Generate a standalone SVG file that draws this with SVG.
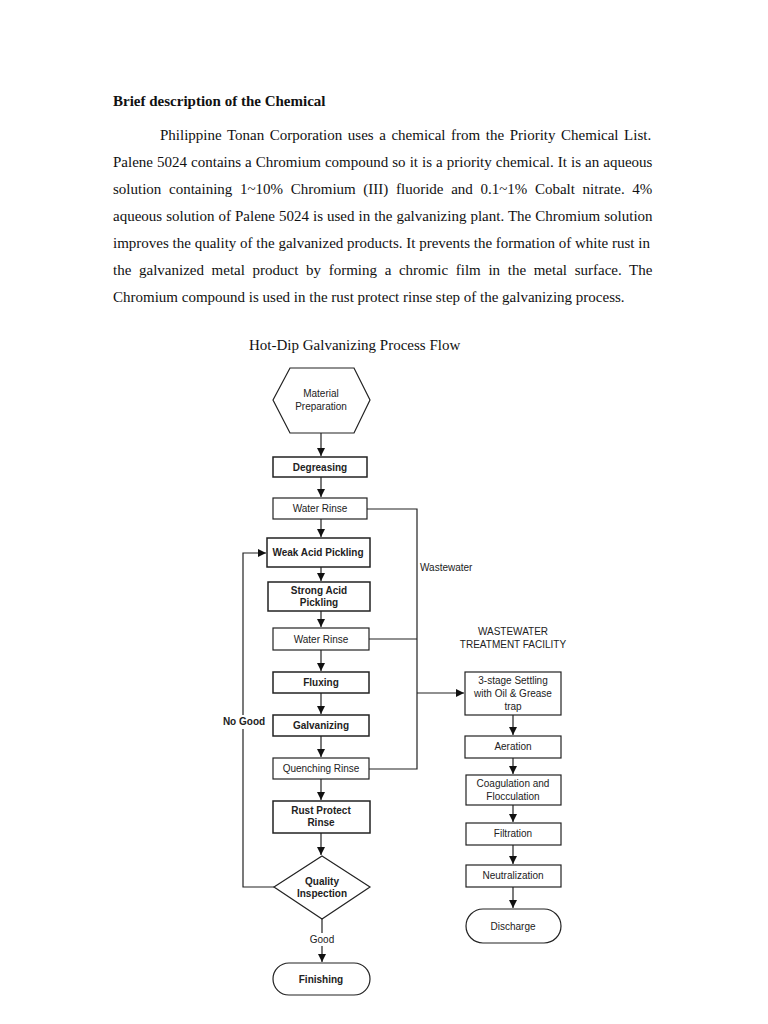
<svg xmlns="http://www.w3.org/2000/svg" width="768" height="1024" viewBox="0 0 768 1024">
<style>
.doc{font-family:"Liberation Serif","Times New Roman",serif;font-size:15px;fill:#111}
.hd{font-family:"Liberation Serif","Times New Roman",serif;font-size:15px;font-weight:bold;fill:#111}
.t{font-family:"Liberation Sans",Arial,sans-serif;font-size:10px;fill:#222;text-anchor:middle}
.b{font-weight:bold}
.box{fill:#fff;stroke:#222;stroke-width:1.2}
.bbox{fill:#fff;stroke:#222;stroke-width:1.5}
.ln{fill:none;stroke:#222;stroke-width:1.2}
</style>
<defs>
<marker id="ah" markerUnits="userSpaceOnUse" markerWidth="10" markerHeight="10" refX="8" refY="4" orient="auto">
<path d="M0,0 L8,4 L0,8 Z" fill="#111"/>
</marker>
</defs>
<rect width="768" height="1024" fill="#fff"/>

<g id="text-block">
<text class="hd" x="113" y="106">Brief description of the Chemical</text>
<text class="doc" x="160" y="140" word-spacing="1.8">Philippine Tonan Corporation uses a chemical from the Priority Chemical List.</text>
<text class="doc" x="113" y="167" word-spacing="0.3">Palene 5024 contains a Chromium compound so it is a priority chemical. It is an aqueous</text>
<text class="doc" x="113" y="194" word-spacing="3.9">solution containing 1~10% Chromium (III) fluoride and 0.1~1% Cobalt nitrate. 4%</text>
<text class="doc" x="113" y="221" word-spacing="0.25">aqueous solution of Palene 5024 is used in the galvanizing plant. The Chromium solution</text>
<text class="doc" x="113" y="248">improves the quality of the galvanized products. It prevents the formation of white rust in</text>
<text class="doc" x="113" y="275" word-spacing="3.9">the galvanized metal product by forming a chromic film in the metal surface. The</text>
<text class="doc" x="113" y="302">Chromium compound is used in the rust protect rinse step of the galvanizing process.</text>
<text class="doc" x="249" y="350">Hot-Dip Galvanizing Process Flow</text>
</g>

<g id="connectors">
<line class="ln" x1="321" y1="433" x2="321" y2="456" marker-end="url(#ah)"/>
<line class="ln" x1="321" y1="477" x2="321" y2="497" marker-end="url(#ah)"/>
<line class="ln" x1="321" y1="519" x2="321" y2="537" marker-end="url(#ah)"/>
<line class="ln" x1="321" y1="567" x2="321" y2="581" marker-end="url(#ah)"/>
<line class="ln" x1="321" y1="611" x2="321" y2="627" marker-end="url(#ah)"/>
<line class="ln" x1="321" y1="650" x2="321" y2="671" marker-end="url(#ah)"/>
<line class="ln" x1="321" y1="693" x2="321" y2="714" marker-end="url(#ah)"/>
<line class="ln" x1="321" y1="736" x2="321" y2="757" marker-end="url(#ah)"/>
<line class="ln" x1="321" y1="779" x2="321" y2="800" marker-end="url(#ah)"/>
<line class="ln" x1="321" y1="833" x2="321" y2="855" marker-end="url(#ah)"/>
<line class="ln" x1="322" y1="919" x2="322" y2="933"/>
<line class="ln" x1="322" y1="946" x2="322" y2="962" marker-end="url(#ah)"/>
<path class="ln" d="M274 887 H243 V553 H266" marker-end="url(#ah)"/>
<path class="ln" d="M367 509 H417 V769 H369"/>
<line class="ln" x1="369" y1="639" x2="417" y2="639"/>
<line class="ln" x1="417" y1="693" x2="464" y2="693" marker-end="url(#ah)"/>
<line class="ln" x1="513" y1="715" x2="513" y2="735" marker-end="url(#ah)"/>
<line class="ln" x1="513" y1="758" x2="513" y2="774" marker-end="url(#ah)"/>
<line class="ln" x1="513" y1="805" x2="513" y2="822" marker-end="url(#ah)"/>
<line class="ln" x1="513" y1="845" x2="513" y2="864" marker-end="url(#ah)"/>
<line class="ln" x1="513" y1="887" x2="513" y2="908" marker-end="url(#ah)"/>
<rect x="221" y="715" width="46" height="14" fill="#fff"/>
<text class="t b" x="244" y="725">No Good</text>
<text class="t" x="322" y="943">Good</text>
<text class="t" x="420" y="571" style="text-anchor:start">Wastewater</text>
</g>

<g id="material-preparation">
<polygon class="box" points="273,400 290,368 354,368 370,400 354,433 290,433"/>
<text class="t" x="321" y="397">Material</text>
<text class="t" x="321" y="410">Preparation</text>
</g>
<g id="degreasing">
<rect class="bbox" x="273" y="457" width="94" height="20"/>
<text class="t b" x="320" y="471">Degreasing</text>
</g>
<g id="water-rinse-1">
<rect class="box" x="273" y="498" width="94" height="21"/>
<text class="t" x="320" y="512">Water Rinse</text>
</g>
<g id="weak-acid-pickling">
<rect class="bbox" x="267" y="538" width="103" height="29"/>
<text class="t b" x="318" y="556">Weak Acid Pickling</text>
</g>
<g id="strong-acid-pickling">
<rect class="bbox" x="268" y="582" width="102" height="29"/>
<text class="t b" x="319" y="594">Strong Acid</text>
<text class="t b" x="319" y="606">Pickling</text>
</g>
<g id="water-rinse-2">
<rect class="box" x="273" y="628" width="96" height="22"/>
<text class="t" x="321" y="643">Water Rinse</text>
</g>
<g id="fluxing">
<rect class="bbox" x="273" y="672" width="96" height="21"/>
<text class="t b" x="321" y="686">Fluxing</text>
</g>
<g id="galvanizing">
<rect class="bbox" x="273" y="715" width="96" height="21"/>
<text class="t b" x="321" y="729">Galvanizing</text>
</g>
<g id="quenching-rinse">
<rect class="box" x="273" y="758" width="96" height="21"/>
<text class="t" x="321" y="772">Quenching Rinse</text>
</g>
<g id="rust-protect-rinse">
<rect class="bbox" x="273" y="801" width="97" height="32"/>
<text class="t b" x="321" y="814">Rust Protect</text>
<text class="t b" x="321" y="826">Rinse</text>
</g>
<g id="quality-inspection">
<polygon class="box" points="322,856 370,887 322,919 274,887"/>
<text class="t b" x="322" y="885">Quality</text>
<text class="t b" x="322" y="897">Inspection</text>
</g>
<g id="finishing">
<rect class="box" x="273" y="963" width="97" height="32" rx="16"/>
<text class="t b" x="321" y="983">Finishing</text>
</g>

<g id="wwtf-label">
<text class="t" x="513" y="635">WASTEWATER</text>
<text class="t" x="513" y="648">TREATMENT FACILITY</text>
</g>
<g id="settling">
<rect class="box" x="465" y="672" width="96" height="43"/>
<text class="t" x="513" y="684">3-stage Settling</text>
<text class="t" x="513" y="697">with Oil &amp; Grease</text>
<text class="t" x="513" y="710">trap</text>
</g>
<g id="aeration">
<rect class="box" x="465" y="736" width="96" height="22"/>
<text class="t" x="513" y="750">Aeration</text>
</g>
<g id="coagulation">
<rect class="box" x="466" y="775" width="95" height="30"/>
<text class="t" x="513" y="787">Coagulation and</text>
<text class="t" x="513" y="800">Flocculation</text>
</g>
<g id="filtration">
<rect class="box" x="466" y="823" width="95" height="22"/>
<text class="t" x="513" y="837">Filtration</text>
</g>
<g id="neutralization">
<rect class="box" x="466" y="865" width="95" height="22"/>
<text class="t" x="513" y="879">Neutralization</text>
</g>
<g id="discharge">
<rect class="box" x="466" y="909" width="95" height="34" rx="17"/>
<text class="t" x="513" y="930">Discharge</text>
</g>
</svg>
